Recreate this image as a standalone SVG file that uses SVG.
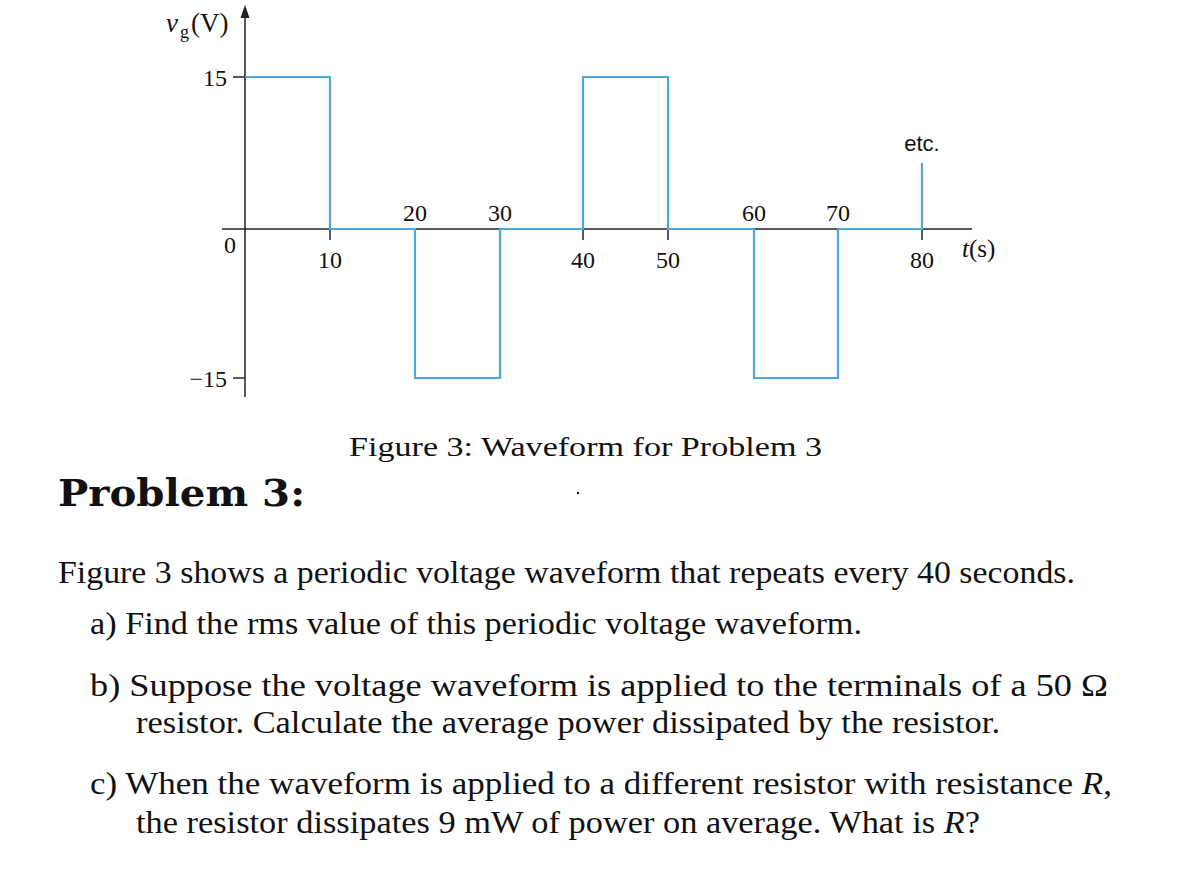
<svg xmlns="http://www.w3.org/2000/svg" width="1182" height="890" viewBox="0 0 1182 890">
<style>
.s{font-family:"Liberation Serif","DejaVu Serif",serif;fill:#111}
.b{font-size:31px}
.a{stroke:#222;stroke-width:1.5;fill:none}
.w{stroke:#4aa8dc;stroke-width:2.2;fill:none}
</style>
<rect width="1182" height="890" fill="#fff"/>
<g id="axes">
<line class="a" x1="245" y1="14" x2="245" y2="397"/>
<polygon points="245,5 240.5,18 249.5,18" fill="#222"/>
<line class="a" x1="222" y1="229" x2="972" y2="229"/>
<line class="a" x1="233" y1="77" x2="245" y2="77"/>
<line class="a" x1="233" y1="378" x2="245" y2="378"/>
<line class="a" x1="330" y1="229" x2="330" y2="240"/>
<line class="a" x1="583" y1="229" x2="583" y2="240"/>
<line class="a" x1="668" y1="229" x2="668" y2="240"/>
<line class="a" x1="922" y1="229" x2="922" y2="240"/>
</g>
<g id="waveform">
<polyline class="w" points="245,77 330,77 330,229 415,229 415,378 500,378 500,229 583,229 583,77 668,77 668,229 754,229 754,378 838,378 838,229 922,229 922,163"/>
</g>
<g id="labels" class="s" font-size="24">
<text x="166" y="32" font-style="italic" font-size="27">v</text><text x="180" y="38" font-size="18">g</text><text x="191" y="32" font-size="27">(V)</text>
<text x="227" y="86" text-anchor="end">15</text>
<text x="227" y="387" text-anchor="end">−15</text>
<text x="230" y="253" text-anchor="middle">0</text>
<text x="330" y="268" text-anchor="middle">10</text>
<text x="415" y="221" text-anchor="middle">20</text>
<text x="500" y="221" text-anchor="middle">30</text>
<text x="583" y="268" text-anchor="middle">40</text>
<text x="668" y="268" text-anchor="middle">50</text>
<text x="754" y="221" text-anchor="middle">60</text>
<text x="838" y="221" text-anchor="middle">70</text>
<text x="922" y="268" text-anchor="middle">80</text>
<text x="922" y="151" text-anchor="middle" font-size="22" font-family="Liberation Sans,sans-serif">etc.</text>
<text x="962" y="257" font-size="25"><tspan font-style="italic">t</tspan>(s)</text>
<text x="349" y="456" font-size="28" textLength="473" lengthAdjust="spacingAndGlyphs">Figure 3: Waveform for Problem 3</text>
</g>
<g id="text" class="s">
<text x="58" y="506" font-size="38" font-weight="bold" font-family="DejaVu Serif,serif" textLength="247" lengthAdjust="spacingAndGlyphs">Problem 3:</text>
<circle cx="578" cy="493" r="1.2" fill="#111"/>
<text x="58" y="583" class="b" textLength="1017" lengthAdjust="spacingAndGlyphs">Figure 3 shows a periodic voltage waveform that repeats every 40 seconds.</text>
<text x="90" y="634" class="b" textLength="772" lengthAdjust="spacingAndGlyphs">a)  Find the rms value of this periodic voltage waveform.</text>
<text x="90" y="696" class="b" textLength="1018" lengthAdjust="spacingAndGlyphs">b)  Suppose the voltage waveform is applied to the terminals of a 50 Ω</text>
<text x="136" y="733" class="b" textLength="864" lengthAdjust="spacingAndGlyphs">resistor. Calculate the average power dissipated by the resistor.</text>
<text x="90" y="794" class="b" textLength="1022" lengthAdjust="spacingAndGlyphs">c)  When the waveform is applied to a different resistor with resistance <tspan font-style="italic">R</tspan>,</text>
<text x="136" y="833" class="b" textLength="844" lengthAdjust="spacingAndGlyphs">the resistor dissipates 9 mW of power on average. What is <tspan font-style="italic">R</tspan>?</text>
</g>
</svg>
